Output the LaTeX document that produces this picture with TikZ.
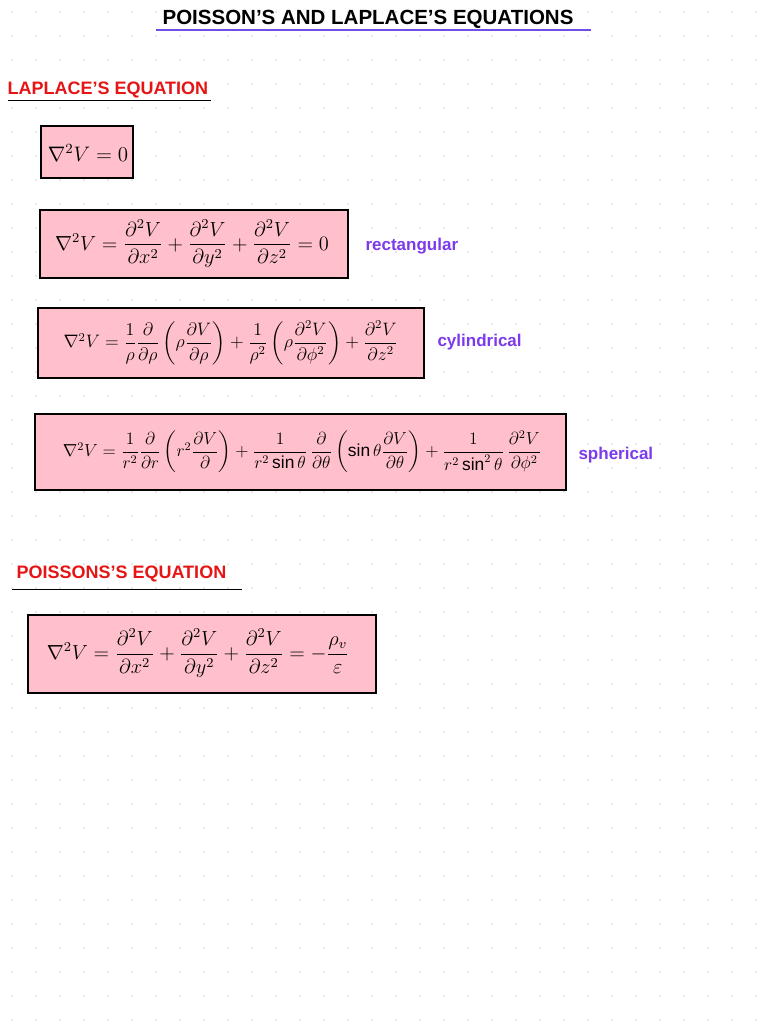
\documentclass[tikz,border=0pt]{standalone}
\usepackage{amsmath}
\usepackage{graphicx}
\usepackage{fontspec}
\setmainfont{Liberation Sans}
\definecolor{boxpink}{RGB}{255,192,203}
\definecolor{lab}{RGB}{124,58,237}
\definecolor{headred}{RGB}{230,20,20}
\definecolor{titleline}{RGB}{110,80,230}
\begin{document}
\begin{tikzpicture}[x=1pt,y=-1pt,
  eqbox/.style={draw=black,line width=1.2pt,fill=boxpink},
  lbl/.style={text=lab,font=\bfseries\fontsize{17}{20}\selectfont,anchor=west},
  head/.style={text=headred,font=\bfseries\fontsize{18}{21}\selectfont,anchor=west},
  eq/.style={font=\large}]
\fill[white] (0,0) rectangle (768,1024);
\useasboundingbox (0,0) rectangle (768,1024);
\foreach \i in {0,...,31}{\foreach \j in {0,...,42}{\fill[gray!35] (12+24*\i,12+24*\j) circle (0.8);}}
\node[font=\bfseries\fontsize{20.5}{24}\selectfont] (title) at (368,19) {POISSON'S AND LAPLACE'S EQUATIONS};
\draw[titleline,line width=1.2pt] (156,30) -- (591,30);
\node[head] (h1) at (4,90) {LAPLACE'S EQUATION};
\draw[black,line width=1pt] (8,101) -- (211,101);
\draw[eqbox] (41,126) rectangle (133,178);
\node[eq] (e1) at (88,153) {\scalebox{1.75}{$\nabla^2V=0$}};
\draw[eqbox] (40,210) rectangle (348,278);
\node[eq] (e2) at (192,244) {\scalebox{1.7}{$\nabla^2V=\dfrac{\partial^2V}{\partial x^2}+\dfrac{\partial^2V}{\partial y^2}+\dfrac{\partial^2V}{\partial z^2}=0$}};
\node[lbl] (l2) at (362,246) {rectangular};
\draw[eqbox] (38,308) rectangle (424,378);
\node[eq] (e3) at (231,343) {\scalebox{1.5}{$\nabla^2V=\dfrac{1}{\rho}\dfrac{\partial}{\partial\rho}\left(\rho\dfrac{\partial V}{\partial\rho}\right)+\dfrac{1}{\rho^2}\left(\rho\dfrac{\partial^2V}{\partial\phi^2}\right)+\dfrac{\partial^2V}{\partial z^2}$}};
\node[lbl] (l3) at (434,342) {cylindrical};
\draw[eqbox] (35,414) rectangle (566,490);
\node[eq] (e4) at (302,452) {\scalebox{1.45}{$\nabla^2V=\dfrac{1}{r^2}\dfrac{\partial}{\partial r}\left(r^2\dfrac{\partial V}{\partial}\right)+\dfrac{1}{r^2\sin\theta}\,\dfrac{\partial}{\partial\theta}\left(\sin\theta\dfrac{\partial V}{\partial\theta}\right)+\dfrac{1}{r^2\sin^2\theta}\,\dfrac{\partial^2V}{\partial\phi^2}$}};
\node[lbl] (l4) at (575,455) {spherical};
\node[head] (h2) at (13,574) {POISSONS'S EQUATION};
\draw[black,line width=1pt] (12,589) -- (242,589);
\draw[eqbox] (28,615) rectangle (376,693);
\node[eq] (e5) at (198,653) {\scalebox{1.7}{$\nabla^2V=\dfrac{\partial^2V}{\partial x^2}+\dfrac{\partial^2V}{\partial y^2}+\dfrac{\partial^2V}{\partial z^2}=-\dfrac{\rho_v}{\varepsilon}$}};
\end{tikzpicture}
\end{document}
